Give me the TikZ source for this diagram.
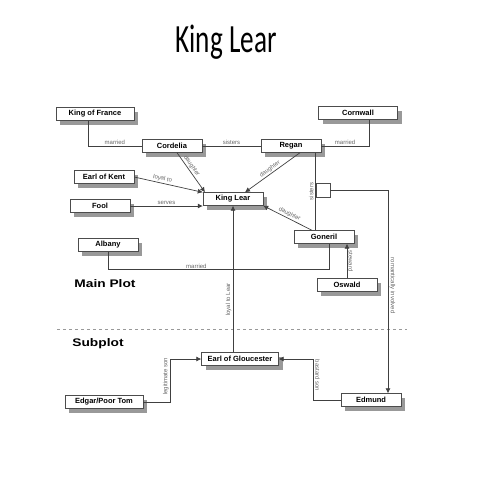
\documentclass[tikz,border=0pt]{standalone}
\usepackage{fontspec}
\setsansfont{Liberation Sans}
\newfontfamily\titlefont{Carlito}
\usetikzlibrary{shadows,arrows.meta}

\tikzset{
  person/.style={draw=black!70, fill=white, font=\sffamily\bfseries\fontsize{7.5}{8}\selectfont,
    minimum width=60pt, minimum height=13pt, inner sep=1pt,
    drop shadow={shadow xshift=4pt, shadow yshift=-4pt, fill=black!40, opacity=1}},
  rel/.style={font=\sffamily\fontsize{6}{7}\selectfont, text=black!60, inner sep=1.2pt},
  link/.style={draw=black!75, line width=0.7pt},
  >={Latex[length=5pt,width=5pt]}
}

\begin{document}
\begin{tikzpicture}[x=1pt,y=-1pt]
\useasboundingbox (0,0) rectangle (480,480);
\node[font=\titlefont\fontsize{40}{44}\selectfont, xscale=0.68, anchor=base] (title) at (226,52) {King Lear};

\node[person, minimum width=78pt] (france) at (95,114) {King of France};
\node[person] (cordelia) at (172,146) {Cordelia};
\node[person] (regan) at (291,146) {Regan};
\node[person, minimum width=79pt] (cornwall) at (358,113) {Cornwall};
\node[person] (kent) at (104,177) {Earl of Kent};
\node[person] (fool) at (100,206) {Fool};
\node[person] (lear) at (233,199) {King Lear};
\node[person] (goneril) at (324,237) {Goneril};
\node[person] (albany) at (108,245) {Albany};
\node[person] (oswald) at (347,285) {Oswald};
\node[person, minimum width=77pt] (gloucester) at (240,359) {Earl of Gloucester};
\node[person, minimum width=78pt] (edgar) at (104,402) {Edgar/Poor Tom};
\node[person] (edmund) at (371,400) {Edmund};
\node[draw=black!70, fill=white, minimum size=14pt, inner sep=0pt] (bond) at (323,190) {};

\node[font=\sffamily\bfseries\fontsize{11}{12}\selectfont, xscale=1.25] (main) at (105,284) {Main Plot};
\node[font=\sffamily\bfseries\fontsize{11}{12}\selectfont, xscale=1.25] (sub) at (98,344) {Subplot};
\draw[black!40, dashed, line width=0.8pt] (57,329) -- (407,329);

\draw[link] ([xshift=-7pt]france.south) |- (cordelia.west) node[rel, pos=0.75, above] {married};
\draw[link] (cordelia.east) -- (regan.west) node[rel, midway, above] {sisters};
\draw[link] (regan.east) -| ([xshift=11pt]cornwall.south) node[rel, pos=0.25, above] {married};
\draw[link, ->] ([xshift=5pt]cordelia.south) -- ([xshift=-28pt]lear.north) node[rel, pos=0.4, sloped, above] {daughter};
\draw[link, ->] ([xshift=9pt]regan.south) -- ([xshift=12pt]lear.north) node[rel, midway, sloped, above] {daughter};
\draw[link, ->] ([xshift=-12pt]goneril.north) -- (lear.south east) node[rel, midway, sloped, above] {daughter};
\draw[link, ->] (kent.east) -- (lear.north west) node[rel, pos=0.4, sloped, above] {loyal to};
\draw[link, ->] (fool.east) -- (fool.east -| lear.west) node[rel, midway, above] {serves};
\draw[link] (albany.south) -- ++(0,18) -| ([xshift=5pt]goneril.south) node[rel, pos=0.2, above] {married};
\draw[link, ->] (oswald.north) -- (oswald.north |- goneril.south) node[rel, midway, rotate=-90, anchor=south] {steward};
\draw[link, ->] (gloucester.north -| lear.south) -- (lear.south) node[rel, pos=0.36, rotate=90, anchor=south] {loyal to Lear};
\draw[link] ([xshift=24pt]regan.south) -- ([xshift=-9pt]goneril.north) node[rel, pos=0.5, rotate=90, anchor=south] {sisters};
\draw[link, ->] (bond.east) -| ([xshift=17pt]edmund.north) node[rel, pos=0.735, rotate=-90, anchor=south] {romantically involved};
\draw[link, ->] (edgar.east) -- ++(27,0) |- (gloucester.west) node[rel, pos=0.3, rotate=90, anchor=south] {legitimate son};
\draw[link, ->] (edmund.west) -- ++(-27,0) |- (gloucester.east) node[rel, pos=0.3, rotate=-90, anchor=south] {bastard son};
\end{tikzpicture}
\end{document}
